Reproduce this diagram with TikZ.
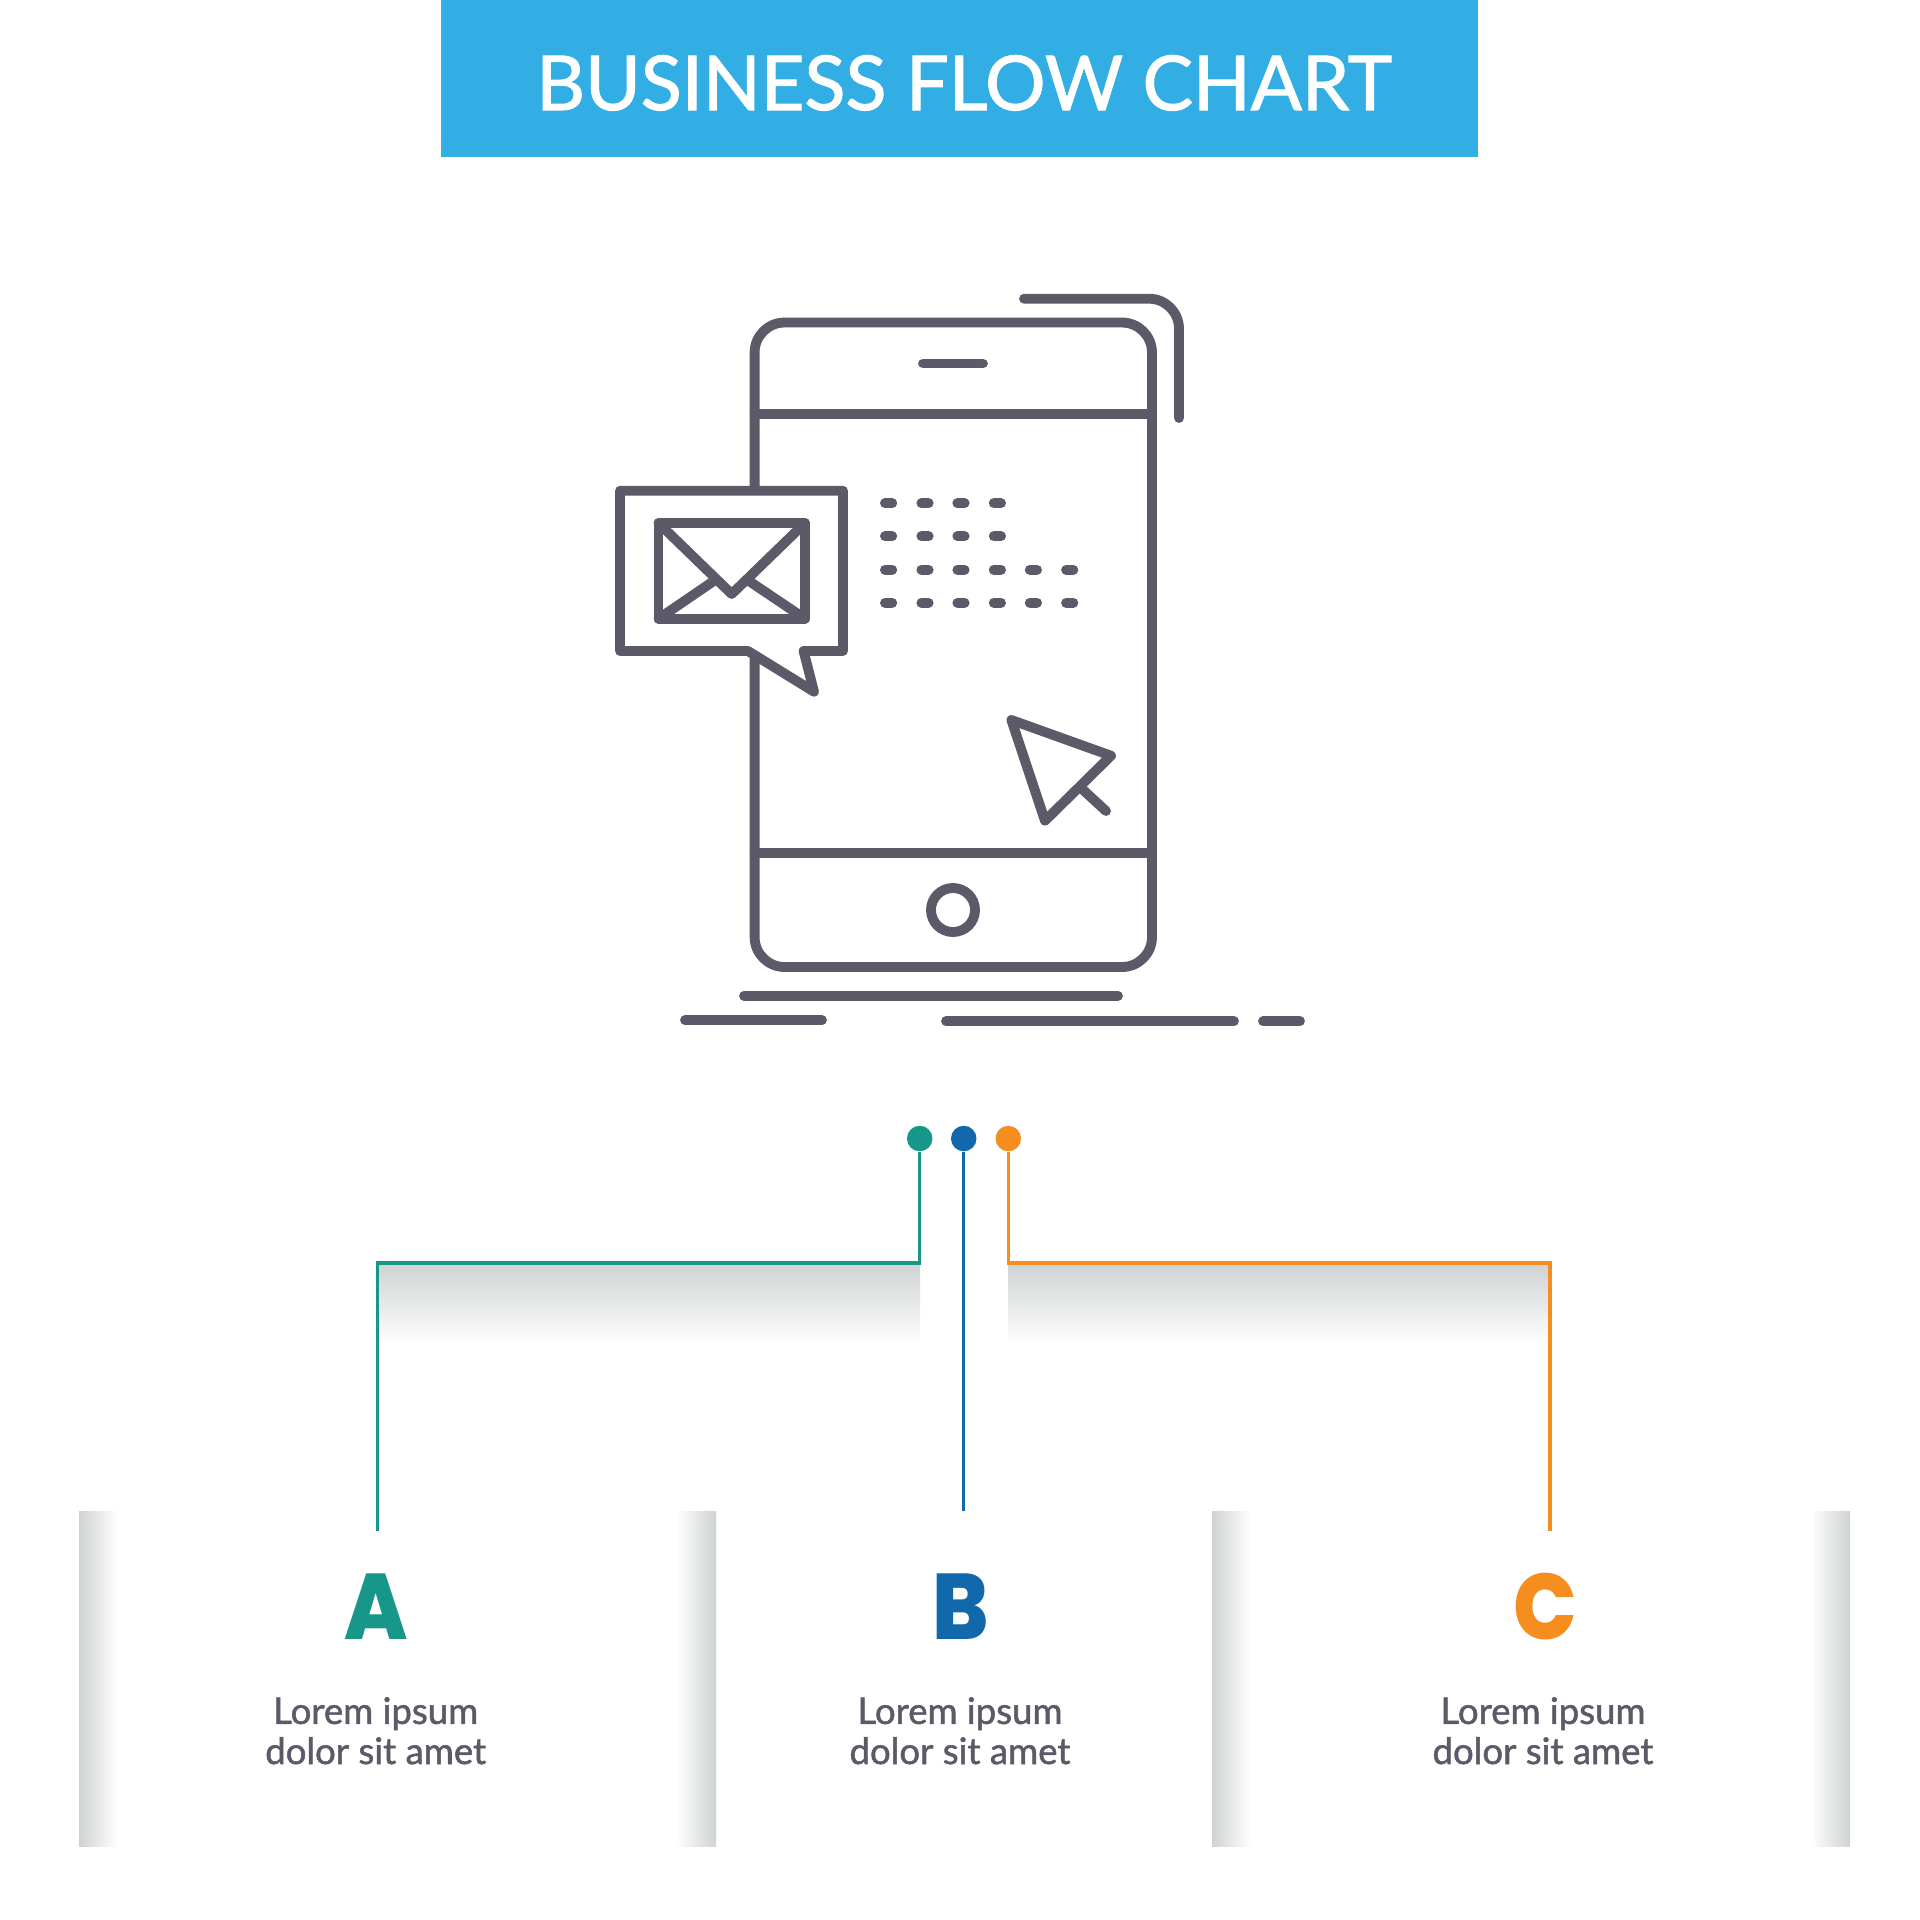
\documentclass[tikz,border=0pt]{standalone}
\usepackage{fontspec}
\setmainfont{Lato}[FakeBold=1.4]
\newfontfamily\letterfont{Poppins}[BoldFont=* ExtraBold,FakeStretch=0.9]
\definecolor{inkgray}{HTML}{5C5A68}
\definecolor{headblue}{HTML}{32AEE4}
\definecolor{tealmark}{HTML}{17978A}
\definecolor{bluemark}{HTML}{1168AB}
\definecolor{orangemark}{HTML}{F68D1F}
\definecolor{shadegray}{HTML}{CFD2D3}
\tikzset{
    icon/.style={line width=2.8pt,inkgray,line cap=round,line join=round},
    dotline/.style={line width=2.9pt,inkgray,line cap=round},
    wire/.style={line width=1pt},
    pin/.style={circle,fill=#1,inner sep=0pt,minimum size=0.255cm},
    letter/.style={text=#1,inner sep=0pt,anchor=base,font=\letterfont\bfseries\fontsize{26.5}{27}\selectfont},
    blurb/.style={text=inkgray,inner sep=0pt,align=center,anchor=base,font=\fontsize{10.4}{11.4}\selectfont},
    fadedown/.style={top color=shadegray,middle color=shadegray!35,bottom color=white},
    fadeleft/.style={left color=shadegray,middle color=shadegray!30,right color=white},
    faderight/.style={left color=white,middle color=shadegray!30,right color=shadegray},
}
\begin{document}
\begin{tikzpicture}[x=0.01cm,y=-0.01cm]
    \useasboundingbox (0,0) rectangle (1920,1920);
    \fill[white] (0,0) rectangle (1920,1920);
    \fill[headblue] (441,0) rectangle (1478,157);
    \node[text=white,inner sep=0pt,anchor=base,font=\fontsize{21.5}{22}\selectfont] (title) at (964,110) {BUSINESS FLOW CHART};

    \shade[fadedown] (378,1263) rectangle (920,1345);
    \shade[fadedown] (1008,1263) rectangle (1550,1345);
    \shade[fadeleft] (79,1511) rectangle (118,1846);
    \shade[faderight] (676,1511) rectangle (716,1846);
    \shade[fadeleft] (1212,1511) rectangle (1251,1846);
    \shade[faderight] (1810,1511) rectangle (1850,1846);

    \draw[icon,rounded corners=0.3cm] (754.6,322.5) rectangle (1152,967);
    \draw[icon] (754.6,414)--(1152,414);
    \draw[icon] (754.6,853)--(1152,853);
    \draw[icon] (923,363.5)--(983,363.5);
    \node[icon,draw,circle,inner sep=0pt,minimum size=0.44cm] (homekey) at (953,910) {};
    \draw[icon,rounded corners=0.3cm] (1024,298.7)--(1179,298.7)--(1179,418);

    \draw[icon,fill=white] (620,490.7)--(843,490.7)--(843,651)--(803.6,651)--(814,691.7)--(748,651)--(620,651)--cycle;
    \draw[icon] (658.5,523) rectangle (805,618.7);
    \draw[icon] (658.5,523)--(731.7,594)--(805,523);
    \draw[icon] (658.5,618.7)--(712.7,581.7);
    \draw[icon] (805,618.7)--(750,581.7);

    \foreach \y in {503.3,536.3}
        \foreach \x in {888.6,925,961,997.4}
            \draw[dotline] (\x-3.5,\y)--(\x+3.5,\y);
    \foreach \y in {569.7,602.7}
        \foreach \x in {888.6,925,961,997.4,1033.4,1069.7}
            \draw[dotline] (\x-3.5,\y)--(\x+3.5,\y);

    \draw[icon] (1011.4,720)--(1111,755.7)--(1045,820.7)--cycle;
    \draw[icon] (1081,788)--(1106,811);

    \draw[icon] (744,995.7)--(1118,995.7);
    \draw[icon] (685,1020.3)--(822,1020.3);
    \draw[icon] (946,1021.3)--(1234,1021.3);
    \draw[icon] (1263,1021.3)--(1300,1021.3);

    \node[pin=tealmark] (pina) at (919.7,1138.5) {};
    \node[pin=bluemark] (pinb) at (963.7,1138.5) {};
    \node[pin=orangemark] (pinc) at (1008.3,1138.5) {};
    \coordinate (elba) at (919.7,1263);
    \coordinate (elbc) at (1008.3,1263);
    \coordinate (enda) at (377.6,1531);
    \coordinate (endb) at (963.7,1511);
    \coordinate (endc) at (1550,1531);
    \draw[wire,tealmark] (pina)--(elba)-|(enda);
    \draw[wire,bluemark] (pinb)--(endb);
    \draw[wire,orangemark] (pinc)--(elbc)-|(endc);

    \node[letter=tealmark] (lettera) at (375.7,1639) {A};
    \node[letter=bluemark] (letterb) at (961,1639) {B};
    \node[letter=orangemark] (letterc) at (1545,1639) {C};
    \node[blurb] (texta) at (375.7,1764) {Lorem ipsum\\dolor sit amet};
    \node[blurb] (textb) at (960,1764) {Lorem ipsum\\dolor sit amet};
    \node[blurb] (textc) at (1543,1764) {Lorem ipsum\\dolor sit amet};
\end{tikzpicture}
\end{document}
